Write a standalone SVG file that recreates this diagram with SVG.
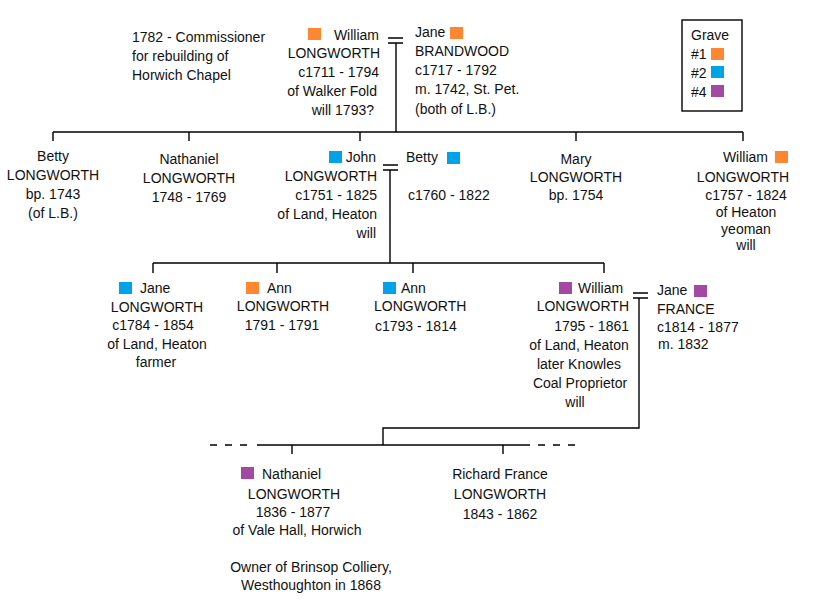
<svg xmlns="http://www.w3.org/2000/svg" width="832" height="604" viewBox="0 0 832 604">
<style>
text{font-family:"Liberation Sans",Arial,sans-serif;font-size:14px;fill:#111}
.m{text-anchor:middle}.e{text-anchor:end}
.ln{stroke:#000;stroke-width:1.4;fill:none}
.o{fill:#FF8732}.b{fill:#00A2E8}.p{fill:#A349A4}
</style>
<rect width="832" height="604" fill="#fff"/>
<g id="connectors" class="ln">
<path d="M388 38H403M388 43H403M396 43V132M53 132H743M53 132V141M189 132V141M360 132V141M576 132V141M743 132V141"/>
<path d="M383 165H398M383 170H398M390 170V263M153 263H604M153 263V273M277 263V273M413 263V273M604 263V273"/>
<path d="M633 293H648M633 298H648M639 298V428H383V445M257 445H530M292 445V454M503 445V454"/>
<path d="M210 445H248M538 445H576" stroke-dasharray="7,8"/>
</g>
<g id="note"><text x="132" y="42">1782 - Commissioner</text><text x="132" y="61">for rebuilding of</text><text x="132" y="80">Horwich Chapel</text></g>
<g id="legend"><rect x="682" y="20" width="60" height="91" fill="#fff" stroke="#000" stroke-width="1.4"/>
<text x="691" y="40">Grave</text><text x="691" y="59">#1</text><text x="691" y="78">#2</text><text x="691" y="97">#4</text>
<rect class="o" x="711" y="48" width="13" height="12"/><rect class="b" x="711" y="66" width="13" height="12"/><rect class="p" x="711" y="85" width="13" height="12"/></g>
<g id="william1711"><rect class="o" x="308" y="28" width="13" height="12"/>
<text class="e" x="379" y="40">William</text><text class="e" x="380" y="58">LONGWORTH</text><text class="e" x="379" y="77">c1711 - 1794</text><text class="e" x="377" y="96">of Walker Fold</text><text class="e" x="374" y="115">will 1793?</text></g>
<g id="jane1717"><text x="415" y="37">Jane</text><rect class="o" x="450" y="27" width="13" height="12"/>
<text x="415" y="56">BRANDWOOD</text><text x="415" y="75">c1717 - 1792</text><text x="415" y="94">m. 1742, St. Pet.</text><text x="415" y="114">(both of L.B.)</text></g>
<g id="betty1743"><text class="m" x="53" y="161">Betty</text><text class="m" x="53" y="180">LONGWORTH</text><text class="m" x="53" y="199">bp. 1743</text><text class="m" x="53" y="218">(of L.B.)</text></g>
<g id="nathaniel1748"><text class="m" x="189" y="164">Nathaniel</text><text class="m" x="189" y="183">LONGWORTH</text><text class="m" x="189" y="202">1748 - 1769</text></g>
<g id="john1751"><rect class="b" x="329" y="151" width="13" height="12"/>
<text class="e" x="376" y="162">John</text><text class="e" x="377" y="181">LONGWORTH</text><text class="e" x="377" y="200">c1751 - 1825</text><text class="e" x="377" y="219">of Land, Heaton</text><text class="e" x="376" y="238">will</text></g>
<g id="betty1760"><text x="406" y="162">Betty</text><rect class="b" x="447" y="152" width="13" height="12"/><text x="408" y="200">c1760 - 1822</text></g>
<g id="mary1754"><text class="m" x="576" y="164">Mary</text><text class="m" x="576" y="182">LONGWORTH</text><text class="m" x="576" y="200">bp. 1754</text></g>
<g id="william1757"><text class="e" x="768" y="162">William</text><rect class="o" x="775" y="151" width="13" height="12"/>
<text class="m" x="743" y="182">LONGWORTH</text><text class="m" x="746" y="200">c1757 - 1824</text><text class="m" x="746" y="217">of Heaton</text><text class="m" x="746" y="234">yeoman</text><text class="m" x="746" y="250">will</text></g>
<g id="jane1784"><rect class="b" x="119" y="282" width="13" height="12"/><text x="140" y="293">Jane</text>
<text class="m" x="157" y="312">LONGWORTH</text><text class="m" x="153" y="330">c1784 - 1854</text><text class="m" x="157" y="349">of Land, Heaton</text><text class="m" x="156" y="367">farmer</text></g>
<g id="ann1791"><rect class="o" x="246" y="282" width="13" height="12"/><text x="267" y="293">Ann</text>
<text class="m" x="283" y="311">LONGWORTH</text><text class="m" x="282" y="330">1791 - 1791</text></g>
<g id="ann1793"><rect class="b" x="383" y="282" width="13" height="12"/><text x="401" y="293">Ann</text>
<text x="374" y="311">LONGWORTH</text><text x="375" y="331">c1793 - 1814</text></g>
<g id="william1795"><rect class="p" x="559" y="282" width="13" height="12"/><text x="578" y="293">William</text>
<text class="e" x="629" y="311">LONGWORTH</text><text class="e" x="629" y="331">1795 - 1861</text><text class="m" x="579" y="350">of Land, Heaton</text><text class="m" x="579" y="369">later Knowles</text><text class="m" x="580" y="388">Coal Proprietor</text><text class="m" x="575" y="407">will</text></g>
<g id="jane1814"><text x="657" y="295">Jane</text><rect class="p" x="694" y="285" width="13" height="12"/>
<text x="657" y="314">FRANCE</text><text x="657" y="332">c1814 - 1877</text><text x="658" y="349">m. 1832</text></g>
<g id="nathaniel1836"><rect class="p" x="241" y="467" width="13" height="12"/><text x="262" y="479">Nathaniel</text>
<text class="m" x="294" y="499">LONGWORTH</text><text class="m" x="293" y="517">1836 - 1877</text><text class="m" x="297" y="535">of Vale Hall, Horwich</text>
<text class="m" x="311" y="572">Owner of Brinsop Colliery,</text><text class="m" x="311" y="590">Westhoughton in 1868</text></g>
<g id="richard1843"><text class="m" x="500" y="479">Richard France</text><text class="m" x="500" y="499">LONGWORTH</text><text class="m" x="500" y="519">1843 - 1862</text></g>
</svg>
